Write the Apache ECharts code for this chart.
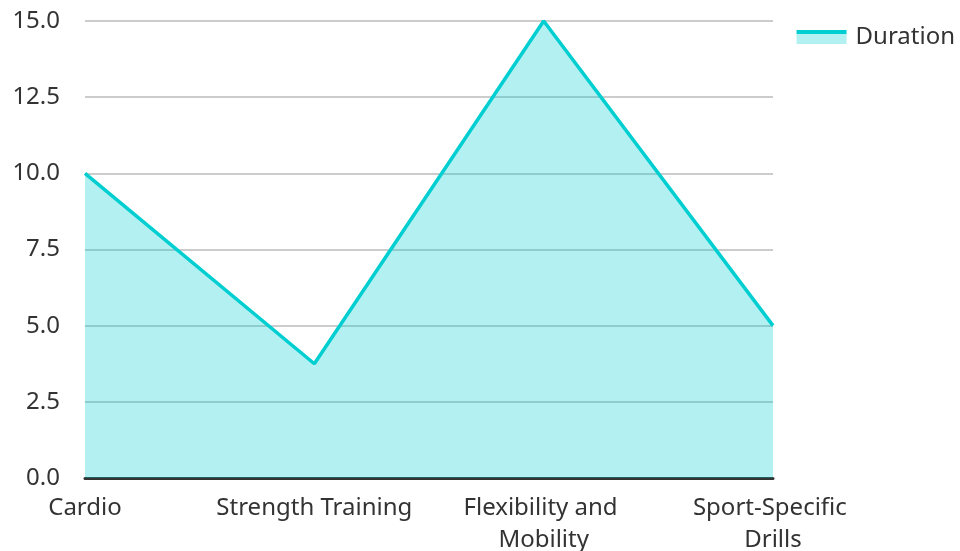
<!DOCTYPE html>
<html>
<head>
<meta charset="utf-8">
<script src="https://cdn.jsdelivr.net/npm/echarts@6/dist/echarts.min.js"></script>
<style>
  html, body { margin: 0; padding: 0; background: #fff; }
  #chart { width: 960px; height: 551px; }
</style>
</head>
<body>
<div id="chart"></div>
<script>
// data
var categories = ["Cardio", "Strength Training", "Flexibility and Mobility", "Sport-Specific Drills"];
var duration = [10, 3.75, 15, 5];
var yTicks = { min: 0, max: 15, interval: 2.5 };

var chart = echarts.init(document.getElementById("chart"));
var font = "Noto Sans";
var teal = "#00CED1";

var option = {
  backgroundColor: "#fff",
  textStyle: { fontFamily: font },
  legend: {
    data: [{
      name: "Duration",
      icon: "rect",
      itemStyle: {
        color: new echarts.graphic.LinearGradient(0, 0, 0, 1, [
          { offset: 0, color: teal },
          { offset: 0.28, color: teal },
          { offset: 0.28, color: "rgba(0,206,209,0.3)" },
          { offset: 1, color: "rgba(0,206,209,0.3)" }
        ])
      }
    }],
    right: 0,
    top: 20,
    itemWidth: 50,
    itemHeight: 14,
    itemGap: 10,
    textStyle: { fontFamily: font, fontSize: 24, color: "#333", padding: [0, 0, 0, 4] }
  },
  grid: { left: 85, right: 187, top: 21, bottom: 73, outerBoundsMode: "none", containLabel: false },
  xAxis: {
    type: "category",
    data: categories,
    boundaryGap: false,
    axisLine: { lineStyle: { color: "#333", width: 3 } },
    axisTick: { show: false },
    axisLabel: {
      interval: 0,
      fontFamily: font,
      fontSize: 24,
      color: "#333",
      margin: 14,
      width: 205,
      overflow: "break",
      lineHeight: 32
    }
  },
  yAxis: {
    type: "value",
    min: yTicks.min,
    max: yTicks.max,
    interval: yTicks.interval,
    axisLine: { show: false },
    axisTick: { show: false },
    splitLine: { lineStyle: { color: "#bbb", width: 1.5 } },
    axisLabel: {
      fontFamily: font,
      fontSize: 24,
      color: "#333",
      margin: 25,
      formatter: function (v) { return v.toFixed(1); }
    }
  },
  series: [
    {
      name: "Duration",
      type: "line",
      data: duration,
      symbol: "none",
      lineStyle: { color: teal, width: 3.5 },
      itemStyle: { color: teal },
      areaStyle: { color: teal, opacity: 0.3 }
    }
  ]
};
chart.setOption(option);
</script>
</body>
</html>
